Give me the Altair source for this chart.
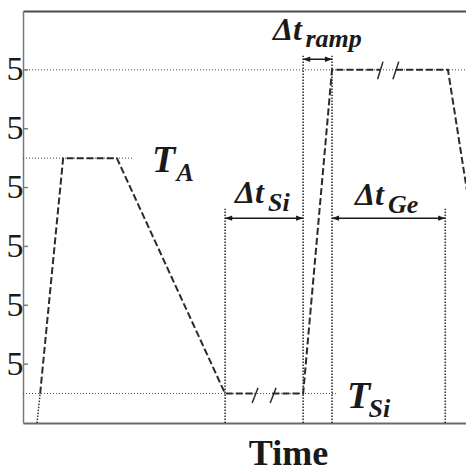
import altair as alt
import pandas as pd

FONT = "Liberation Serif"

# temperature levels (y units) and time (arbitrary units across the visible plot)
y_ticks = [475, 525, 575, 625, 675, 725]
y_floor = 425

# dashed temperature profile, split where the time axis is broken
prof_seg = ["a"] * 5 + ["b"] * 4 + ["c"] * 3
prof_t = [3.8, 8.9, 20.8, 44.8, 51.4, 55.3, 62.1, 68.5, 79.2, 82.7, 94.2, 101.3]
prof_T = [450, 650, 650, 450, 450, 450, 450, 725, 725, 725, 725, 552]

# dotted lead-in below T_Si
lead_t = [3.1, 3.8]
lead_T = [425, 450]

# dotted horizontal guides
h_T = [725, 650, 450]
h_t0 = [0, 0, 0]
h_t1 = [98.7, 24.4, 69.6]

# dotted vertical guides
v_t = [44.8, 62.1, 68.5, 93.6]
v_top = [607, 737, 737, 607]

# double-headed arrows
arr_t0 = [44.8, 62.1, 68.5]
arr_t1 = [62.1, 68.5, 93.6]
arr_T = [599, 734, 599]

# axis-break slashes
brk_t0 = [78.6, 82.0, 50.8, 54.8]
brk_t1 = [79.8, 83.3, 52.1, 56.1]
brk_T0 = [717, 717, 442, 442]
brk_T1 = [732, 732, 455, 455]

# annotation labels
big_txt = ["T", "T"]
big_t = [28.6, 71.8]
big_T = [638, 438]
big_sub = ["A", "Si"]
big_sub_t = [34.0, 76.6]
big_sub_T = [631, 430]

d_txt = ["Δt", "Δt", "Δt"]
d_t = [47.0, 55.4, 73.6]
d_T = [612, 750, 610]
d_sub = ["Si", "ramp", "Ge"]
d_sub_t = [54.3, 62.6, 80.9]
d_sub_T = [605, 744, 603]

xs = alt.Scale(domain=[0, 98.2], nice=False, zero=False)
ys = alt.Scale(domain=[425, 775], nice=False, zero=False)

prof = pd.DataFrame({"seg": prof_seg, "t": prof_t, "T": prof_T, "o": list(range(len(prof_t)))})
lead = pd.DataFrame({"t": lead_t, "T": lead_T})
hdf = pd.DataFrame({"T": h_T, "t0": h_t0, "t1": h_t1})
vdf = pd.DataFrame({"t": v_t, "top": v_top, "bot": [y_floor] * len(v_t)})
adf = pd.DataFrame({"t0": arr_t0, "t1": arr_t1, "T": arr_T})
bdf = pd.DataFrame({"t0": brk_t0, "t1": brk_t1, "T0": brk_T0, "T1": brk_T1})
tdf = pd.DataFrame({"T": y_ticks})

bottom_axis = alt.Axis(title="Time", labels=False, ticks=False, grid=False,
                       domainColor="#6a6a6a", domainWidth=2,
                       titleFont=FONT, titleFontSize=36, titleFontWeight="bold",
                       titleColor="#1a1a1a", titleX=265, titleY=41,
                       titleAlign="center", titleBaseline="alphabetic")
top_axis = alt.Axis(orient="top", title=None, labels=False, ticks=False, grid=False,
                    domainColor="#4a4a4a", domainWidth=2)
y_axis = alt.Axis(values=y_ticks, title=None, ticks=False, grid=False, format="d",
                  labelFont=FONT, labelFontSize=34, labelColor="#1a1a1a",
                  labelPadding=0, labelOverlap=False, labelFlush=False,
                  domainColor="#7a7a7a", domainWidth=1.5)


def Y(field):
    return alt.Y(field, type="quantitative", scale=ys, axis=y_axis)


hlines = alt.Chart(hdf).mark_rule(strokeDash=[1, 2], strokeWidth=1, color="#444", clip=True).encode(
    x=alt.X("t0:Q", scale=xs, axis=top_axis), x2="t1:Q", y=Y("T"))

vlines = alt.Chart(vdf).mark_rule(strokeDash=[1.5, 1.5], strokeWidth=1.6, color="#333").encode(
    x=alt.X("t:Q", scale=xs, axis=None), y=Y("bot"), y2="top:Q")

lead_line = alt.Chart(lead).mark_line(strokeDash=[1.5, 1.5], strokeWidth=1.5, color="#333").encode(
    x=alt.X("t:Q", scale=xs, axis=None), y=Y("T"))

profile = alt.Chart(prof).mark_line(strokeDash=[7, 3], strokeWidth=2, color="#2b2b2b", clip=True).encode(
    x=alt.X("t:Q", scale=xs, axis=bottom_axis), y=Y("T"),
    detail="seg:N", order="o:Q")

breaks = alt.Chart(bdf).mark_rule(strokeWidth=1.5, color="#2b2b2b").encode(
    x=alt.X("t0:Q", scale=xs, axis=None), x2="t1:Q", y=Y("T0"), y2="T1:Q")

ticks = alt.Chart(tdf).mark_rule(strokeWidth=1.5, color="#7a7a7a").encode(
    y=Y("T"), x=alt.value(0), x2=alt.value(5))

shafts = alt.Chart(adf).mark_rule(strokeWidth=1.5, color="#1a1a1a").encode(
    x=alt.X("t0:Q", scale=xs, axis=None), x2="t1:Q", y=Y("T"))

head_r = alt.Chart(adf).mark_point(shape="M0,0L-1,-0.38L-1,0.38Z", filled=True, size=200,
                                   opacity=1, color="#1a1a1a").encode(
    x=alt.X("t1:Q", scale=xs, axis=None), y=Y("T"))

head_l = alt.Chart(adf).mark_point(shape="M0,0L1,-0.38L1,0.38Z", filled=True, size=200,
                                   opacity=1, color="#1a1a1a").encode(
    x=alt.X("t0:Q", scale=xs, axis=None), y=Y("T"))


def label_layer(txt, tt, TT, size):
    df = pd.DataFrame({"txt": txt, "t": tt, "T": TT})
    return alt.Chart(df).mark_text(font=FONT, fontStyle="italic", fontWeight="bold",
                                   fontSize=size, align="left", baseline="alphabetic",
                                   color="#1a1a1a").encode(
        x=alt.X("t:Q", scale=xs, axis=None), y=Y("T"), text="txt:N")


chart = alt.layer(
    hlines, vlines, lead_line, profile, breaks, ticks, shafts, head_r, head_l,
    label_layer(big_txt, big_t, big_T, 38),
    label_layer(big_sub, big_sub_t, big_sub_T, 26),
    label_layer(d_txt, d_t, d_T, 32),
    label_layer(d_sub, d_sub_t, d_sub_T, 26),
).resolve_axis(x="independent").properties(
    width=443, height=412,
    padding={"left": 15, "top": 3, "right": 0, "bottom": 42},
    autosize=alt.AutoSizeParams(type="none"),
).configure_view(stroke=None)

chart.save("out.html", embed_options={"renderer": "svg", "actions": False})
